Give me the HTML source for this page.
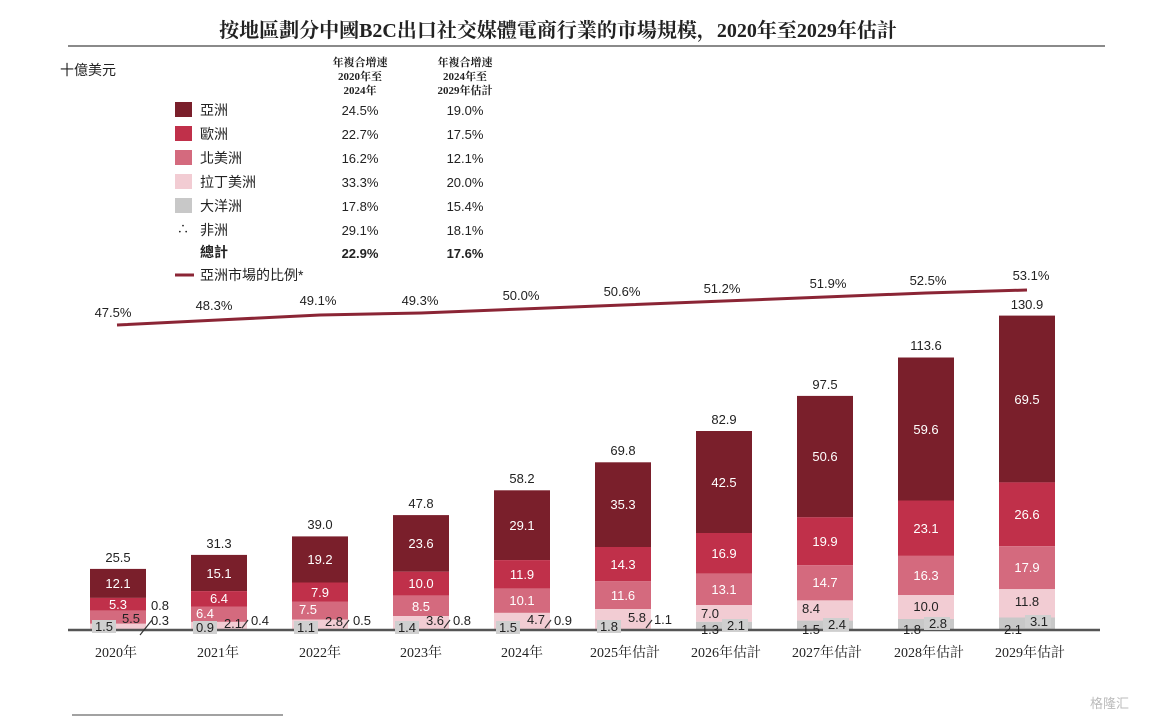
<!DOCTYPE html>
<html><head><meta charset="utf-8"><style>
body{margin:0;background:#fff}
svg{display:block}
.t{font-family:"Liberation Sans","Noto Sans CJK TC",sans-serif;font-size:13px;fill:#222}
.w{font-family:"Liberation Sans",sans-serif;font-size:13px;fill:#fff;text-anchor:middle}
.d{font-family:"Liberation Sans",sans-serif;font-size:13px;fill:#222;text-anchor:middle}
.y{font-family:"Liberation Serif","Noto Serif CJK SC",serif;font-size:14px;fill:#222;text-anchor:middle}
.l{font-family:"Liberation Sans","Noto Sans CJK TC",sans-serif;font-size:14px;fill:#222}
.h{font-family:"Liberation Serif","Noto Serif CJK SC",serif;font-size:11px;font-weight:bold;fill:#222;text-anchor:middle}
</style></head><body>
<svg width="1170" height="720" xmlns="http://www.w3.org/2000/svg">
<text x="558" y="37" text-anchor="middle" style="font-family:'Liberation Serif','Noto Serif CJK SC',serif;font-size:20px;font-weight:bold;fill:#222">按地區劃分中國B2C出口社交媒體電商行業的市場規模，2020年至2029年估計</text>
<line x1="68" y1="46" x2="1105" y2="46" stroke="#444" stroke-width="1.2"/>
<text x="60" y="75" class="l">十億美元</text>
<text x="360" y="66" class="h">年複合增速</text><text x="360" y="80" class="h">2020年至</text><text x="360" y="94" class="h">2024年</text>
<text x="465" y="66" class="h">年複合增速</text><text x="465" y="80" class="h">2024年至</text><text x="465" y="94" class="h">2029年估計</text>
<rect x="175" y="102" width="17" height="15" fill="#7a1f2b"/><text x="200" y="115" class="l">亞洲</text>
<rect x="175" y="126" width="17" height="15" fill="#c0304a"/><text x="200" y="139" class="l">歐洲</text>
<rect x="175" y="150" width="17" height="15" fill="#d46a7e"/><text x="200" y="163" class="l">北美洲</text>
<rect x="175" y="174" width="17" height="15" fill="#f2ccd3"/><text x="200" y="187" class="l">拉丁美洲</text>
<rect x="175" y="198" width="17" height="15" fill="#c8c8c8"/><text x="200" y="211" class="l">大洋洲</text>
<text x="177" y="233" class="l" style="font-size:12px">∴</text><text x="200" y="235" class="l">非洲</text>
<text x="200" y="257" class="l" style="font-weight:bold">總計</text>
<line x1="175" y1="275" x2="194" y2="275" stroke="#8b2535" stroke-width="3"/><text x="200" y="280" class="l">亞洲市場的比例*</text>
<g>
<text x="360" y="115" class="d">24.5%</text><text x="465" y="115" class="d">19.0%</text>
<text x="360" y="139" class="d">22.7%</text><text x="465" y="139" class="d">17.5%</text>
<text x="360" y="163" class="d">16.2%</text><text x="465" y="163" class="d">12.1%</text>
<text x="360" y="187" class="d">33.3%</text><text x="465" y="187" class="d">20.0%</text>
<text x="360" y="211" class="d">17.8%</text><text x="465" y="211" class="d">15.4%</text>
<text x="360" y="235" class="d">29.1%</text><text x="465" y="235" class="d">18.1%</text>
<text x="360" y="258" class="d" style="font-weight:bold">22.9%</text><text x="465" y="258" class="d" style="font-weight:bold">17.6%</text>
</g>
<polyline fill="none" stroke="#8b2535" stroke-width="3" points="117,325 218,320 320,315 421,313 522,309 623,305 724,301 825,297 926,293 1027,290"/>
<g class="d">
<text x="113" y="317">47.5%</text><text x="214" y="310">48.3%</text><text x="318" y="305">49.1%</text><text x="420" y="305">49.3%</text><text x="521" y="300">50.0%</text><text x="622" y="296">50.6%</text><text x="722" y="293">51.2%</text><text x="828" y="288">51.9%</text><text x="928" y="285">52.5%</text><text x="1031" y="280">53.1%</text>
</g>
<g>
<rect x="90" y="568.9" width="56" height="29" fill="#7a1f2b"/><rect x="90" y="597.9" width="56" height="12.7" fill="#c0304a"/><rect x="90" y="610.6" width="56" height="13.2" fill="#d46a7e"/><rect x="90" y="623.8" width="56" height="6.2" fill="#f2ccd3"/>
<rect x="191" y="554.9" width="56" height="36.2" fill="#7a1f2b"/><rect x="191" y="591.1" width="56" height="15.4" fill="#c0304a"/><rect x="191" y="606.5" width="56" height="15.4" fill="#d46a7e"/><rect x="191" y="621.9" width="56" height="8.1" fill="#f2ccd3"/>
<rect x="292" y="536.4" width="56" height="46.1" fill="#7a1f2b"/><rect x="292" y="582.5" width="56" height="19" fill="#c0304a"/><rect x="292" y="601.5" width="56" height="18" fill="#d46a7e"/><rect x="292" y="619.5" width="56" height="10.5" fill="#f2ccd3"/>
<rect x="393" y="515.1" width="56" height="56.6" fill="#7a1f2b"/><rect x="393" y="571.7" width="56" height="24" fill="#c0304a"/><rect x="393" y="595.7" width="56" height="20.4" fill="#d46a7e"/><rect x="393" y="616.1" width="56" height="13.9" fill="#f2ccd3"/>
<rect x="494" y="490.3" width="56" height="69.8" fill="#7a1f2b"/><rect x="494" y="560.1" width="56" height="28.6" fill="#c0304a"/><rect x="494" y="588.7" width="56" height="24.2" fill="#d46a7e"/><rect x="494" y="612.9" width="56" height="17.1" fill="#f2ccd3"/>
<rect x="595" y="462.3" width="56" height="84.7" fill="#7a1f2b"/><rect x="595" y="547" width="56" height="34.3" fill="#c0304a"/><rect x="595" y="581.3" width="56" height="27.8" fill="#d46a7e"/><rect x="595" y="609.1" width="56" height="20.9" fill="#f2ccd3"/>
<rect x="696" y="431" width="56" height="102" fill="#7a1f2b"/><rect x="696" y="533" width="56" height="40.6" fill="#c0304a"/><rect x="696" y="573.6" width="56" height="31.4" fill="#d46a7e"/><rect x="696" y="605" width="56" height="16.8" fill="#f2ccd3"/><rect x="696" y="621.8" width="56" height="8.2" fill="#c8c8c8"/>
<rect x="797" y="395.9" width="56" height="121.4" fill="#7a1f2b"/><rect x="797" y="517.3" width="56" height="47.8" fill="#c0304a"/><rect x="797" y="565.1" width="56" height="35.3" fill="#d46a7e"/><rect x="797" y="600.4" width="56" height="20.2" fill="#f2ccd3"/><rect x="797" y="620.6" width="56" height="9.4" fill="#c8c8c8"/>
<rect x="898" y="357.5" width="56" height="143" fill="#7a1f2b"/><rect x="898" y="500.5" width="56" height="55.4" fill="#c0304a"/><rect x="898" y="555.9" width="56" height="39.1" fill="#d46a7e"/><rect x="898" y="595" width="56" height="24" fill="#f2ccd3"/><rect x="898" y="619" width="56" height="11" fill="#c8c8c8"/>
<rect x="999" y="315.6" width="56" height="166.8" fill="#7a1f2b"/><rect x="999" y="482.4" width="56" height="63.8" fill="#c0304a"/><rect x="999" y="546.2" width="56" height="43" fill="#d46a7e"/><rect x="999" y="589.2" width="56" height="28.3" fill="#f2ccd3"/><rect x="999" y="617.5" width="56" height="12.5" fill="#c8c8c8"/>
</g>
<line x1="68" y1="630" x2="1100" y2="630" stroke="#555" stroke-width="2.5"/>
<g fill="#cfcfcf">
<rect x="92" y="620" width="24" height="13"/><rect x="193" y="621" width="24" height="13"/><rect x="294" y="621" width="24" height="13"/><rect x="395" y="621" width="24" height="13"/><rect x="496" y="621" width="24" height="13"/><rect x="597" y="620" width="24" height="13"/>
<rect x="722" y="619" width="26" height="13"/><rect x="823" y="618" width="26" height="13"/><rect x="924" y="617" width="26" height="13"/><rect x="1025" y="615" width="26" height="13"/>
</g>
<g class="w">
<text x="118" y="588">12.1</text><text x="118" y="609">5.3</text>
<text x="219" y="578">15.1</text><text x="219" y="603">6.4</text><text x="205" y="618">6.4</text>
<text x="320" y="564">19.2</text><text x="320" y="597">7.9</text><text x="308" y="614">7.5</text>
<text x="421" y="548">23.6</text><text x="421" y="588">10.0</text><text x="421" y="611">8.5</text>
<text x="522" y="530">29.1</text><text x="522" y="579">11.9</text><text x="522" y="605">10.1</text>
<text x="623" y="509">35.3</text><text x="623" y="569">14.3</text><text x="623" y="600">11.6</text>
<text x="724" y="487">42.5</text><text x="724" y="558">16.9</text><text x="724" y="594">13.1</text>
<text x="825" y="461">50.6</text><text x="825" y="546">19.9</text><text x="825" y="587">14.7</text>
<text x="926" y="434">59.6</text><text x="926" y="533">23.1</text><text x="926" y="580">16.3</text>
<text x="1027" y="404">69.5</text><text x="1027" y="519">26.6</text><text x="1027" y="572">17.9</text>
</g>
<g class="d">
<text x="118" y="562">25.5</text><text x="219" y="548">31.3</text><text x="320" y="529">39.0</text><text x="421" y="508">47.8</text><text x="522" y="483">58.2</text><text x="623" y="455">69.8</text><text x="724" y="424">82.9</text><text x="825" y="389">97.5</text><text x="926" y="350">113.6</text><text x="1027" y="309">130.9</text>
<text x="104" y="631">1.5</text><text x="131" y="623">5.5</text><text x="160" y="610">0.8</text><text x="160" y="625">0.3</text>
<text x="205" y="632">0.9</text><text x="233" y="628">2.1</text><text x="260" y="625">0.4</text>
<text x="306" y="632">1.1</text><text x="334" y="626">2.8</text><text x="362" y="625">0.5</text>
<text x="407" y="632">1.4</text><text x="435" y="625">3.6</text><text x="462" y="625">0.8</text>
<text x="508" y="632">1.5</text><text x="536" y="624">4.7</text><text x="563" y="625">0.9</text>
<text x="609" y="631">1.8</text><text x="637" y="622">5.8</text><text x="663" y="624">1.1</text>
<text x="710" y="618">7.0</text><text x="710" y="634">1.3</text><text x="736" y="630">2.1</text>
<text x="811" y="613">8.4</text><text x="811" y="634">1.5</text><text x="837" y="629">2.4</text>
<text x="926" y="611">10.0</text><text x="912" y="634">1.8</text><text x="938" y="628">2.8</text>
<text x="1027" y="606">11.8</text><text x="1013" y="634">2.1</text><text x="1039" y="626">3.1</text>
</g>
<g stroke="#333" stroke-width="1.2">
<line x1="140" y1="635" x2="152" y2="620"/><line x1="242" y1="628" x2="248" y2="620"/><line x1="343" y1="628" x2="349" y2="620"/><line x1="444" y1="628" x2="450" y2="620"/><line x1="545" y1="628" x2="551" y2="620"/><line x1="646" y1="628" x2="652" y2="620"/>
</g>
<g class="y">
<text x="116" y="657">2020年</text><text x="218" y="657">2021年</text><text x="320" y="657">2022年</text><text x="421" y="657">2023年</text><text x="522" y="657">2024年</text>
<text x="625" y="657">2025年估計</text><text x="726" y="657">2026年估計</text><text x="827" y="657">2027年估計</text><text x="929" y="657">2028年估計</text><text x="1030" y="657">2029年估計</text>
</g>
<line x1="72" y1="715" x2="283" y2="715" stroke="#444" stroke-width="1"/>
<text x="1090" y="708" style="font-family:'Noto Sans CJK TC',sans-serif;font-size:13px;fill:#bbb">格隆汇</text>
</svg>
</body></html>
